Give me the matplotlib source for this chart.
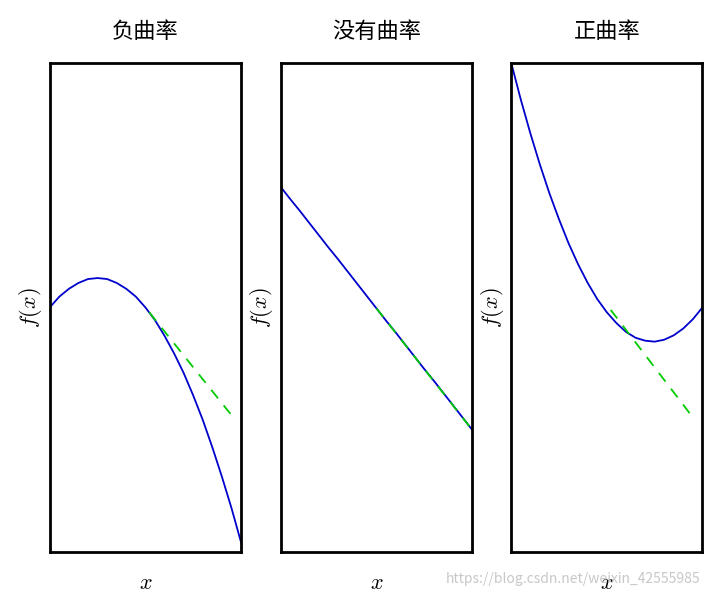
import matplotlib.pyplot as plt

plt.rcParams['font.family'] = ['Noto Sans CJK SC', 'DejaVu Sans']
plt.rcParams['mathtext.fontset'] = 'cm'

titles = ['负曲率', '没有曲率', '正曲率']
xs = [0.0, 0.05, 0.1, 0.15, 0.2, 0.25, 0.3, 0.35, 0.4, 0.45, 0.5,
      0.55, 0.6, 0.65, 0.7, 0.75, 0.8, 0.85, 0.9, 0.95, 1.0]
curve_neg = [0.500, 0.522, 0.538, 0.550, 0.558, 0.560, 0.558, 0.550, 0.538, 0.522, 0.500,
             0.474, 0.442, 0.406, 0.366, 0.320, 0.270, 0.214, 0.154, 0.090, 0.020]
curve_flat = [0.746, 0.721, 0.697, 0.672, 0.647, 0.622, 0.598, 0.573, 0.548, 0.523, 0.498,
              0.473, 0.449, 0.424, 0.399, 0.374, 0.350, 0.325, 0.300, 0.275, 0.250]
curve_pos = [1.000, 0.925, 0.856, 0.792, 0.733, 0.680, 0.631, 0.588, 0.550, 0.517, 0.490,
             0.468, 0.450, 0.438, 0.432, 0.430, 0.434, 0.443, 0.457, 0.476, 0.500]
tan_neg_x = [0.52, 0.97]
tan_neg_y = [0.49, 0.27]
tan_flat_x = [0.50, 1.0]
tan_flat_y = [0.498, 0.25]
tan_pos_x = [0.52, 0.96]
tan_pos_y = [0.495, 0.27]

curves = [curve_neg, curve_flat, curve_pos]
tangents = [(tan_neg_x, tan_neg_y), (tan_flat_x, tan_flat_y), (tan_pos_x, tan_pos_y)]
lefts = [0.070, 0.395, 0.719]

fig = plt.figure(figsize=(7.11, 6.01), dpi=100)
for i in range(3):
    ax = fig.add_axes([lefts[i], 0.0815, 0.269, 0.814])
    ax.plot(xs, curves[i], color='#0000cc', lw=1.3)
    tx, ty = tangents[i]
    ax.plot(tx, ty, color='#00cc00', lw=1.3, ls=(0, (6, 5)))
    ax.set_xlim(0, 1)
    ax.set_ylim(0, 1)
    ax.set_xticks([])
    ax.set_yticks([])
    for s in ax.spines.values():
        s.set_linewidth(2)
    ax.set_title(titles[i], fontsize=16, pad=18)
    ax.set_xlabel('$x$', fontsize=16, labelpad=14)
    ax.set_ylabel('$f(x)$', fontsize=16, labelpad=4)

fig.text(0.985, 0.025, 'https://blog.csdn.net/weixin_42555985', color='#c8c8c8',
         fontsize=10, ha='right', va='bottom')
fig.savefig('out.png', dpi=100)
